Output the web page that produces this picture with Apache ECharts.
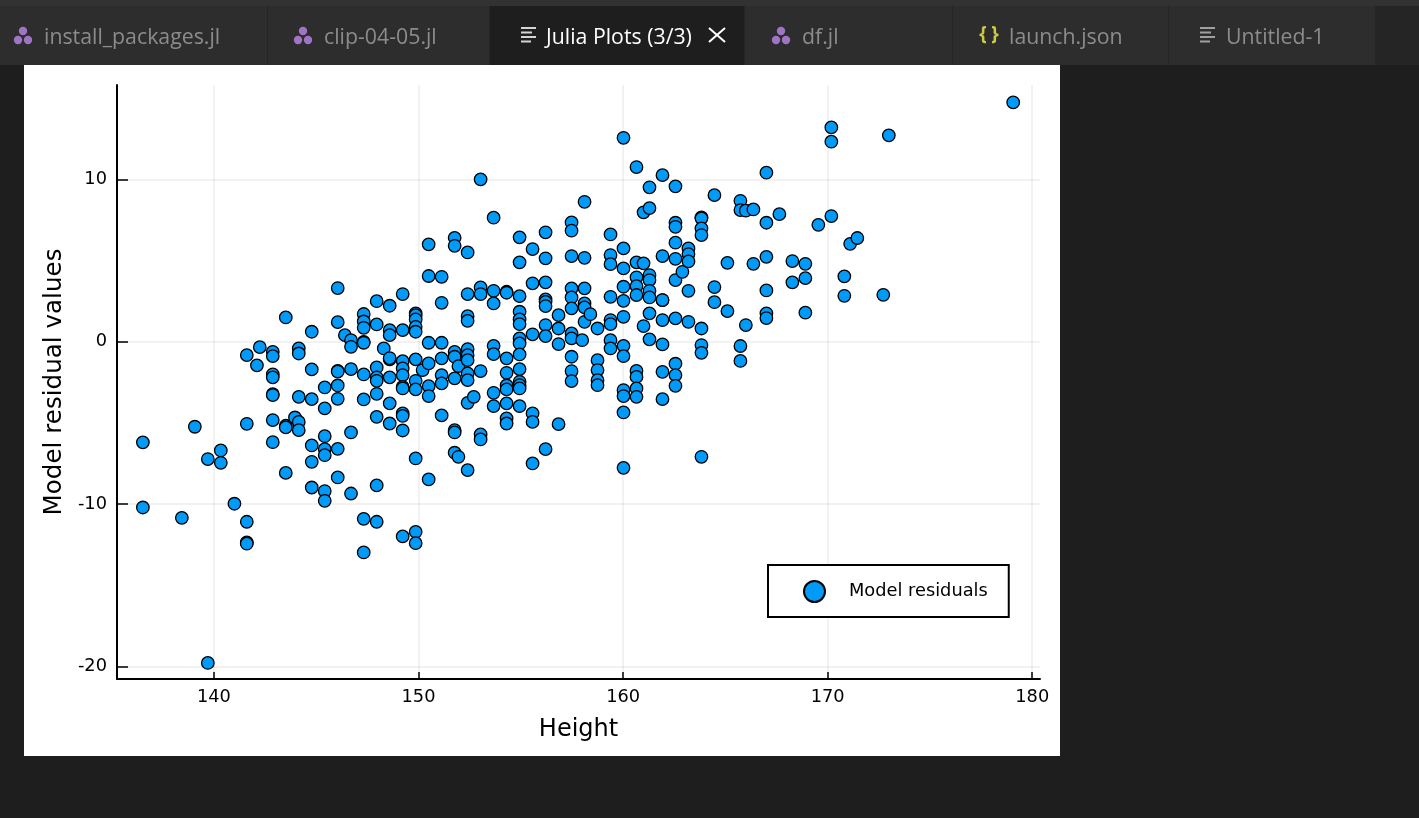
<!DOCTYPE html>
<html>
<head>
<meta charset="utf-8">
<title>Julia Plots</title>
<style>
    html, body { margin: 0; padding: 0; background: #1e1e1e; }
    #chart { width: 1419px; height: 818px; }
</style>
<script src="https://cdn.jsdelivr.net/npm/echarts@6/dist/echarts.min.js"></script>
</head>
<body>
<div id="chart"></div>
<script>
// heights take a limited set of values, so residuals are listed per height
const heights = [
    136.525, 138.43, 139.065, 139.7, 140.335, 141.0, 141.605, 142.24, 142.1, 142.875,
    143.51, 143.96, 144.145, 144.78, 145.415, 146.05, 146.4, 146.7, 147.32, 147.955,
    148.3, 148.59, 149.225, 149.86, 150.2, 150.495, 151.13, 151.765, 151.95, 152.4,
    152.7, 153.035, 153.67, 154.305, 154.94, 155.575, 156.21, 156.845, 157.48, 158.0,
    158.115, 158.4, 158.75, 159.385, 160.02, 160.655, 161.0, 161.29, 161.925, 162.56,
    162.9, 163.195, 163.83, 164.465, 165.1, 165.735, 166.0, 166.37, 167.005, 167.64,
    168.275, 168.91, 169.545, 170.18, 170.815, 171.1, 171.45, 172.72, 172.99, 179.07
];
const residuals = [
    [-6.19, -10.2],
    [-10.84],
    [-5.23],
    [-7.22, -19.77],
    [-6.69, -7.45],
    [-9.97],
    [-5.05, -11.08, -12.35, -12.43, -0.82],
    [-0.33],
    [-1.45],
    [-0.62, -0.88, -2.01, -2.19, -3.22, -3.28, -4.82, -6.18],
    [1.5, -5.17, -5.27, -8.07],
    [-4.66],
    [-0.41, -0.72, -3.39, -4.93, -5.44],
    [0.62, -1.7, -3.53, -6.38, -7.39, -8.97],
    [-2.81, -4.1, -5.81, -6.61, -6.98, -9.19, -9.79],
    [3.31, 1.21, -1.79, -1.83, -2.69, -3.51, -6.59, -8.35],
    [0.41],
    [0.1, -0.31, -1.68, -5.58, -9.34],
    [1.71, 1.25, 0.86, 0, -0.06, -2.01, -3.55, -10.9, -12.97],
    [2.5, 1.07, -1.58, -2.19, -2.4, -3.2, -4.62, -8.84, -11.08],
    [-0.41],
    [2.22, 0.72, 0.41, -1.08, -1.0, -2.19, -3.79, -5.03],
    [2.94, 0.72, -1.19, -1.64, -2.05, -2.77, -2.87, -4.41, -4.56, -5.46, -11.98],
    [1.75, 1.64, 1.38, 0.92, 0.62, -1.08, -2.4, -2.93, -7.18, -11.7, -12.4],
    [-1.74],
    [6.0, 4.05, -0.06, -1.33, -2.73, -3.34, -8.47],
    [4.0, 2.4, -0.06, -1.02, -2.05, -2.56, -4.53],
    [6.4, 5.91, -0.62, -0.92, -2.25, -5.44, -5.58, -6.83],
    [-1.5, -7.08],
    [5.5, 2.94, 1.58, 1.29, -0.45, -0.82, -1.13, -1.95, -2.36, -3.76, -7.9],
    [-3.39],
    [10.0, 3.35, 2.94, -1.8, -5.7, -6.01],
    [7.64, 3.14, 2.36, -0.25, -0.76, -3.14, -3.96],
    [3.08, 3.02, -1.02, -1.91, -2.69, -2.93, -3.79, -4.72, -5.03],
    [6.43, 4.89, 2.81, 1.85, 1.38, 1.09, 0.21, -0.1, -0.78, -1.68, -2.46, -2.67, -2.87, -3.96],
    [5.71, 3.6, 0.46, -4.41, -4.93, -7.49],
    [6.74, 5.14, 3.66, 2.61, 2.46, 2.2, 1.03, 0.35, -6.61],
    [1.64, 0.82, -0.14, -5.07],
    [7.35, 6.84, 5.28, 3.29, 2.73, 2.06, 0.52, 0.21, -0.92, -1.8, -2.42],
    [0.1],
    [8.62, 5.17, 3.29, 2.36, 2.12, 1.23],
    [1.7],
    [0.82, -1.13, -1.74, -2.36, -2.67],
    [6.61, 5.34, 4.78, 2.77, 1.34, 1.09, 0.1, -0.41],
    [12.56, 5.75, 4.52, 3.39, 2.52, 1.54, -0.25, -0.88, -2.97, -3.34, -4.35, -7.76],
    [10.76, 4.89, 3.97, 3.43, 2.88, -1.79, -2.16, -2.87, -3.39],
    [7.97, 4.83, 0.97],
    [9.51, 8.23, 4.11, 3.8, 3.14, 2.73, 1.75, 0.15],
    [10.26, 5.28, 2.57, 2.57, 1.34, -0.16, -1.85, -3.53],
    [9.57, 7.33, 7.08, 6.1, 5.11, 3.8, 1.44, -1.35, -2.05, -2.71],
    [4.31],
    [5.75, 5.4, 4.95, 3.14, 1.23],
    [7.66, 7.6, 6.98, 6.57, 0.82, -0.2, -0.68, -7.08],
    [9.03, 3.37, 2.44],
    [4.86, 1.89],
    [8.68, 8.11, -0.26, -1.18],
    [8.07, 1.03],
    [8.15, 4.8],
    [10.41, 7.33, 5.23, 3.16, 1.75, 1.46],
    [7.86],
    [4.97, 3.66],
    [4.8, 3.92, 1.79],
    [7.2],
    [13.2, 12.32, 7.74],
    [4.03, 2.83],
    [6.03],
    [6.39],
    [2.89],
    [12.71],
    [14.74]
];
const xTicks = [140, 150, 160, 170, 180];
const yTicks = [-20, -10, 0, 10];
const seriesName = 'Model residuals';
const xTitle = 'Height';
const yTitle = 'Model residual values';
const tabNames = ['install_packages.jl', 'clip-04-05.jl', 'Julia Plots (3/3)', 'df.jl', 'launch.json', 'Untitled-1'];
const tabEdges = [0, 268, 490, 745, 953, 1169, 1376];
const tabTextX = [44, 324, 546, 802, 1009, 1226];
const activeTab = 2;

const points = [];
heights.forEach((h, i) => {
    residuals[i].forEach(r => points.push([h, r]));
});

const tabFont = '21.3px "Open Sans"';
const purple = '#a074c4';

function juliaIcon(cx) {
    return [[cx, 31], [cx - 5, 40], [cx + 5, 40]].map(c => ({
        type: 'circle',
        shape: {cx: c[0], cy: c[1], r: 4.2},
        style: {fill: purple},
        silent: true
    }));
}

function linesIcon(x, color) {
    return [[0, 15], [0, 11], [0, 15], [0, 10]].map((l, i) => ({
        type: 'rect',
        shape: {x: x + l[0], y: 27 + i * 4.5, width: l[1], height: 2},
        style: {fill: color},
        silent: true
    }));
}

function braceText(x, text) {
    return {
        type: 'text',
        x: x,
        y: 35,
        style: {text: text, font: 'bold 19px "Open Sans"', fill: '#cbcb41', align: 'center', verticalAlign: 'middle'},
        silent: true
    };
}

function chromeElements() {
    const els = [
        {type: 'rect', shape: {x: 0, y: 0, width: 1419, height: 65}, style: {fill: '#252526'}, silent: true},
        {type: 'rect', shape: {x: 0, y: 0, width: 1419, height: 6}, style: {fill: '#323232'}, silent: true},
        {type: 'rect', shape: {x: 24, y: 65, width: 1036, height: 691}, style: {fill: '#ffffff'}, silent: true}
    ];
    tabNames.forEach((name, i) => {
        els.push({
            type: 'rect',
            shape: {x: tabEdges[i], y: 6, width: tabEdges[i + 1] - tabEdges[i] - 1, height: 59},
            style: {fill: i === activeTab ? '#1e1e1e' : '#2d2d2d'},
            silent: true
        });
        els.push({
            type: 'text',
            x: tabTextX[i],
            y: 38,
            style: {
                text: name,
                font: tabFont,
                fill: i === activeTab ? '#ffffff' : '#8c8c8c',
                verticalAlign: 'middle'
            },
            silent: true
        });
    });
    els.push(...juliaIcon(23), ...juliaIcon(303), ...juliaIcon(781));
    els.push(...linesIcon(521, '#d4d4d4'), ...linesIcon(1200, '#a0a0a0'));
    els.push(braceText(983, '{'), braceText(995, '}'));
    [[709, 28, 725, 42], [725, 28, 709, 42]].forEach(l => {
        els.push({
            type: 'line',
            shape: {x1: l[0], y1: l[1], x2: l[2], y2: l[3]},
            style: {stroke: '#ffffff', lineWidth: 2},
            silent: true
        });
    });
    return els;
}

const gridLine = {show: true, lineStyle: {color: 'rgba(0,0,0,0.07)', width: 1.5}};
const axisFont = {fontFamily: 'DejaVu Sans', fontSize: 17.8, color: '#000'};

const chart = echarts.init(document.getElementById('chart'));
chart.setOption({
    animation: false,
    backgroundColor: '#1e1e1e',
    graphic: {elements: chromeElements()},
    grid: {left: 117, top: 85, width: 923, height: 594, containLabel: false},
    xAxis: {
        type: 'value',
        min: 135.26,
        max: 180.38,
        name: xTitle,
        nameLocation: 'middle',
        nameGap: 39,
        nameTextStyle: {fontFamily: 'DejaVu Sans', fontSize: 24, color: '#000'},
        axisLine: {onZero: false, lineStyle: {color: '#000', width: 2}},
        axisTick: {inside: true, length: 7, customValues: xTicks, lineStyle: {color: '#000', width: 1.5}},
        axisLabel: Object.assign({customValues: xTicks, margin: 9}, axisFont),
        splitLine: gridLine
    },
    yAxis: {
        type: 'value',
        min: -20.76,
        max: 15.81,
        name: yTitle,
        nameLocation: 'middle',
        nameGap: 49,
        nameTextStyle: {fontFamily: 'DejaVu Sans', fontSize: 24.6, color: '#000'},
        axisLine: {onZero: false, lineStyle: {color: '#000', width: 2}},
        axisTick: {inside: true, length: 11, customValues: yTicks, lineStyle: {color: '#000', width: 1.5}},
        axisLabel: Object.assign({customValues: yTicks, margin: 10, padding: [6, 0, 0, 0]}, axisFont),
        splitLine: gridLine
    },
    legend: {
        left: 768,
        top: 565,
        padding: [15, 21, 14, 35],
        backgroundColor: '#fff',
        borderColor: '#000',
        borderWidth: 2,
        itemWidth: 21,
        itemHeight: 21,
        icon: 'circle',
        selectedMode: false,
        textStyle: {fontFamily: 'DejaVu Sans', fontSize: 17.8, color: '#000', padding: [4, 0, 0, 19]},
        data: [seriesName]
    },
    series: [{
        name: seriesName,
        type: 'scatter',
        data: points,
        symbol: 'circle',
        symbolSize: 12.5,
        itemStyle: {color: '#009af9', borderColor: '#000', borderWidth: 1.3, opacity: 1}
    }]
});
</script>
</body>
</html>
